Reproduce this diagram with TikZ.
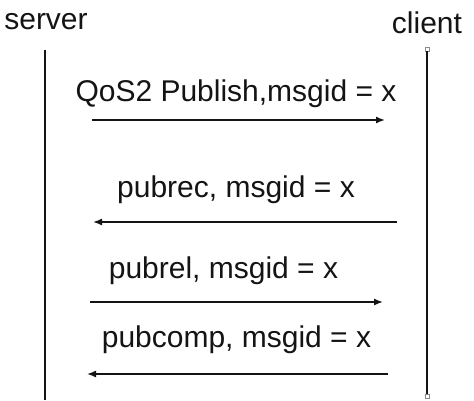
\documentclass[tikz,border=0pt]{standalone}
\usepackage{fontspec}
\setmainfont{Liberation Sans}
\usepackage{tikz}
\usetikzlibrary{arrows.meta}
\definecolor{ink}{HTML}{141414}
\definecolor{handle}{HTML}{8A8A8A}
\tikzset{life/.style={draw=ink,line width=1.8pt},msg/.style={-{Latex[length=9pt,width=7pt]},draw=ink,line width=1.4pt},lbl/.style={anchor=base,inner sep=0pt,text=ink,font=\fontsize{30}{36}\selectfont},grip/.style={draw=handle,fill=white,line width=.5pt,minimum size=4pt,inner sep=0pt}}

\begin{document}
\begin{tikzpicture}[x=1pt,y=-1pt]
 \useasboundingbox (0,0) rectangle (474,400);
 \node[lbl] (server) at (46,29) {server}; \node[lbl] (client) at (427,33) {client};
 \coordinate (srvtop) at (45,50); \coordinate (srvbot) at (45,400);
 \node[grip] (clitop) at (427,49) {}; \node[grip] (clibot) at (427,396) {};
 \draw[life] (srvtop) -- (srvbot); \draw[life,line width=1.4pt] (clitop) -- (clibot);
 \node[lbl] (publish) at (236,101) {QoS2 Publish,msgid = x};
 \coordinate (pubfrom) at (92,120); \coordinate (pubto) at (385,120);
 \draw[msg] (pubfrom) -- (pubto);
 \node[lbl] (pubrec) at (236,197) {pubrec, msgid = x};
 \coordinate (recfrom) at (397,222); \coordinate (recto) at (93,222);
 \draw[msg] (recfrom) -- (recto);
 \node[lbl] (pubrel) at (223.5,278) {pubrel, msgid = x};
 \coordinate (relfrom) at (90,302); \coordinate (relto) at (383,302);
 \draw[msg] (relfrom) -- (relto);
 \node[lbl] (pubcomp) at (236.5,347) {pubcomp, msgid = x};
 \coordinate (compfrom) at (388,374); \coordinate (compto) at (87,374);
 \draw[msg] (compfrom) -- (compto);
\end{tikzpicture}
\end{document}
